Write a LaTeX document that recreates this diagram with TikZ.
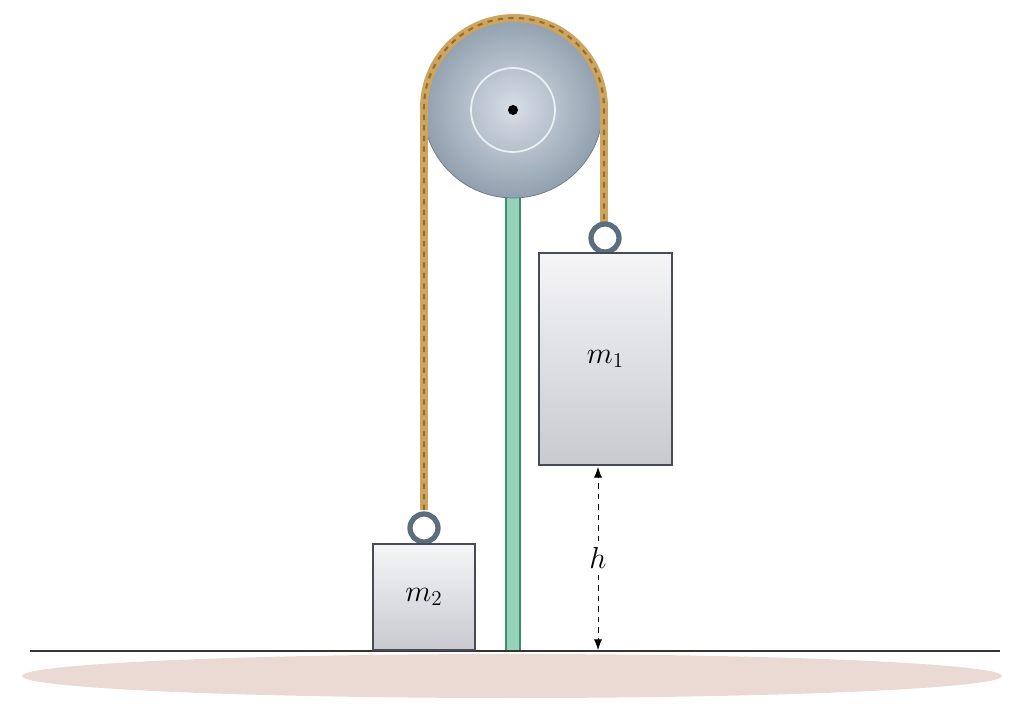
\documentclass[tikz,border=0pt]{standalone}
\usetikzlibrary{arrows.meta}
\definecolor{ropec}{RGB}{205,165,95}
\definecolor{ropein}{RGB}{150,110,50}
\definecolor{blkdraw}{RGB}{70,75,85}
\definecolor{blktop}{RGB}{245,245,247}
\definecolor{blkbot}{RGB}{200,202,208}
\definecolor{ringc}{RGB}{90,110,125}
\definecolor{shad}{RGB}{235,218,212}
\definecolor{gnd}{RGB}{60,50,50}
\definecolor{polef}{RGB}{150,210,185}
\definecolor{poled}{RGB}{60,140,110}
\definecolor{pulin}{RGB}{215,222,230}
\definecolor{pulout}{RGB}{145,160,175}
\definecolor{puld}{RGB}{110,120,130}
\definecolor{hubc}{RGB}{235,240,245}
\begin{document}
\begin{tikzpicture}[x=0.02cm,y=-0.02cm,
  rope/.style={line width=4.5pt,draw=ropec},
  ropeinner/.style={line width=1.2pt,draw=ropein,dash pattern=on 3pt off 3pt},
  block/.style={draw=blkdraw,line width=0.8pt,top color=blktop,bottom color=blkbot},
  ring/.style={draw=ringc,line width=3pt},
  lab/.style={font=\LARGE\itshape}]
\useasboundingbox (0,0) rectangle (1024,726);
\fill[shad] (512,676) ellipse (490 and 22);
\draw[line width=1pt,gnd] (30,651) coordinate (g1) -- (1000,651) coordinate (g2);
\fill[polef] (506,195) rectangle (520,650);
\draw[poled,line width=0.6pt] (506,195) -- (506,650) (520,195) -- (520,650);
\node[circle,minimum size=3.6cm,inner sep=0,inner color=pulin,outer color=pulout,draw=puld] (pul) at (513,108) {};
\node[circle,minimum size=1.68cm,inner sep=0,draw=hubc,line width=1pt] (hub) at (513,110) {};
\fill (513,110) circle (5);
\draw[rope] (424,510) -- (424,108) arc[start angle=180,end angle=360,radius=90] -- (604,222);
\draw[ropeinner] (424,510) -- (424,108) arc[start angle=180,end angle=360,radius=90] -- (604,222);
\draw[ring] (605,238) circle (14);
\draw[ring] (424,528) circle (14);
\node[block,minimum width=2.66cm,minimum height=4.24cm,inner sep=0] (m1) at (605.5,359) {};
\node[lab] at (m1) {$m_1$};
\node[block,minimum width=2.04cm,minimum height=2.12cm,inner sep=0] (m2) at (424,597) {};
\node[lab] at (m2) {$m_2$};
\node[lab] (h) at (598,558) {$h$};
\draw[dashed,-{Latex[length=6pt]}] (h.north) -- (598,467);
\draw[dashed,-{Latex[length=6pt]}] (h.south) -- (598,650);
\end{tikzpicture}
\end{document}
